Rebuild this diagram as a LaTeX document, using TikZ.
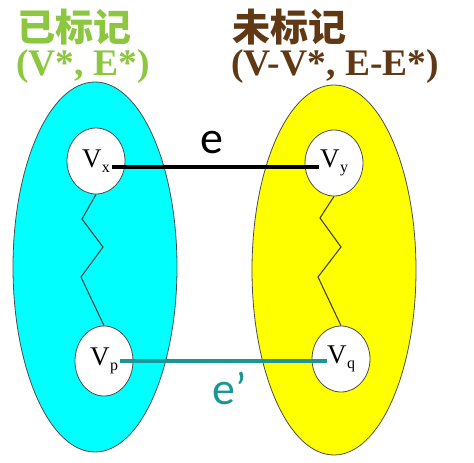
\documentclass[tikz,border=0pt]{standalone}
\usepackage{fontspec}
\setmainfont{Liberation Serif}
\newfontfamily\cjkfont{Noto Sans CJK SC}
\newfontfamily\edgefont{Carlito}
\usepackage{tikz}
\usetikzlibrary{shapes.geometric,calc}

\definecolor{markgreen}{RGB}{141,198,63}
\definecolor{markbrown}{RGB}{96,56,19}
\definecolor{edgeteal}{RGB}{26,150,148}
\definecolor{setcyan}{RGB}{0,255,255}
\definecolor{setyellow}{RGB}{255,255,0}

% vertex name with a lowered roman subscript
\newcommand{\vname}[1]{V\kern0.5pt\raisebox{-0.35ex}{\fontsize{16}{16}\selectfont #1}}

\begin{document}
\begin{tikzpicture}[
  x=1pt, y=-1pt,
  setfill/.style={ellipse, draw=black!70, line width=0.8pt,
                  minimum width=164pt, minimum height=370pt},
  vertex/.style={ellipse, draw=black!70, line width=0.8pt, fill=white,
                 minimum width=58pt, minimum height=66pt, inner sep=0pt,
                 font=\fontsize{27}{27}\selectfont},
  title/.style={anchor=west, inner sep=0pt, font=\bfseries\fontsize{37.5}{37.5}\selectfont},
  cjktitle/.style={title, font=\cjkfont\bfseries\fontsize{38}{38}\selectfont},
  edgelabel/.style={inner sep=0pt, font=\edgefont\fontsize{46}{46}\selectfont},
  zig/.style={draw=black!75, line width=1.1pt}
]
\useasboundingbox (0,0) rectangle (474,463);

% the two vertex sets
\node (marked)   [setfill, fill=setcyan] at (95,267) {};
\node (unmarked) [setfill, fill=setyellow] at (334,270) {};

% titles
\node (t1)  [cjktitle, text=markgreen] at (17,27) {已标记};
\node (t1b) [title, text=markgreen] at (16,66) {(V*, E*)};
\node (t2)  [cjktitle, text=markbrown] at (232,27) {未标记};
\node (t2b) [title, text=markbrown] at (231,66) {(V-V*, E-E*)};

% vertices
\node (vx) [vertex] at (96,161) {\vname{x}};
\node (vy) [vertex] at (334,163) {\vname{y}};
\node (vp) [vertex, minimum height=70pt] at (104,361) {\vname{p}};
\node (vq) [vertex] at (341,359) {\vname{q}};

% paths inside each set
\draw[zig] (vx.south) -- (82,219) -- (103,247) -- (81,277) -- (vp.north);
\draw[zig] (vy.south) -- (320,218) -- (341,247) -- (318,277) -- (vq.north);

% crossing edges
\draw[line width=3.5pt] ($(vx.center)+(16,6)$) -- ($(vy.center)+(-15,4)$);
\draw[line width=3.5pt, edgeteal] ($(vp.center)+(16,0)$) -- ($(vq.center)+(-14,2)$);

\node (e)  [edgelabel] at (212,143) {e};
\node (e2) [edgelabel, text=edgeteal] at (230,388) {e’};
\end{tikzpicture}
\end{document}
